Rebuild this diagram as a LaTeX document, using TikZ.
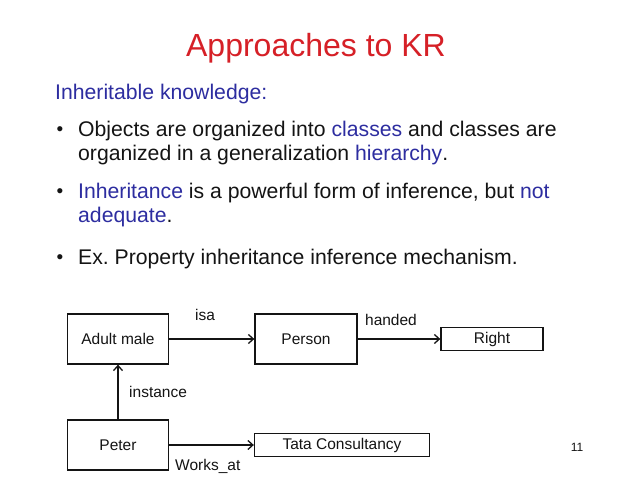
\documentclass[tikz,border=0pt]{standalone}
\usepackage{fontspec}
\setmainfont{Liberation Sans}
\usetikzlibrary{arrows.meta}
\definecolor{titlered}{RGB}{214,32,39}
\definecolor{kblue}{RGB}{45,45,160}
\definecolor{ink}{RGB}{20,20,20}
\newcommand{\kw}[1]{\textcolor{kblue}{#1}}
\frenchspacing

\begin{document}
\begin{tikzpicture}[x=1pt,y=-1pt,
    every node/.style={inner sep=0pt,text=ink},
    txtline/.style={anchor=base west,font=\fontsize{21.2}{25}\selectfont},
    bul/.style={anchor=base,font=\fontsize{19}{25}\selectfont},
    entity/.style={draw=ink,line width=1.3pt,minimum height=50pt,font=\fontsize{15.5}{18}\selectfont},
    valbox/.style={entity,minimum height=23pt},
    rel/.style={anchor=base,font=\fontsize{15.5}{18}\selectfont},
    link/.style={draw=ink,line width=1.3pt,-{Straight Barb[length=5pt,width=9pt]}}]
  \fill[white] (0,0) rectangle (638,478);
  \useasboundingbox (0,0) rectangle (638,478);

  \node[anchor=base,font=\fontsize{32}{36}\selectfont,text=titlered] (title) at (316,57) {Approaches to KR};
  \node[txtline,text=kblue] (sub) at (55,100) {Inheritable knowledge:};

  \node[bul] (b1) at (60,136) {•};
  \node[txtline] (l1) at (78,137) {Objects are organized into \kw{classes} and classes are};
  \node[txtline] (l2) at (78,161) {organized in a generalization \kw{hierarchy}.};
  \node[bul] (b2) at (60,198) {•};
  \node[txtline] (l3) at (78,199) {\kw{Inheritance} is a powerful form of inference, but \kw{not}};
  \node[txtline] (l4) at (78,223) {\kw{adequate}.};
  \node[bul] (b3) at (60,264) {•};
  \node[txtline] (l5) at (78,265) {Ex. Property inheritance inference mechanism.};

  \node[entity,minimum width=101pt] (amale) at (118,339) {Adult male};
  \node[entity,minimum width=102pt] (person) at (306,339) {Person};
  \node[valbox,minimum width=102pt] (right) at (492,339) {Right};
  \node[entity,minimum width=101pt] (peter) at (118,445) {Peter};
  \node[valbox,minimum width=175pt] (tata) at (342,445) {Tata Consultancy};

  \draw[link] (amale) -- (person);
  \draw[link] (person) -- (right);
  \draw[link] (peter) -- (amale);
  \draw[link] (peter) -- (tata);

  \node[rel] (isa) at (205,321) {isa};
  \node[rel] (handed) at (391,326) {handed};
  \node[rel,anchor=base west] (inst) at (129,398) {instance};
  \node[rel,anchor=base west] (works) at (175,471) {Works\_at};
  \node[anchor=base,font=\fontsize{12}{14}\selectfont] (pgno) at (577,452) {11};
\end{tikzpicture}
\end{document}
